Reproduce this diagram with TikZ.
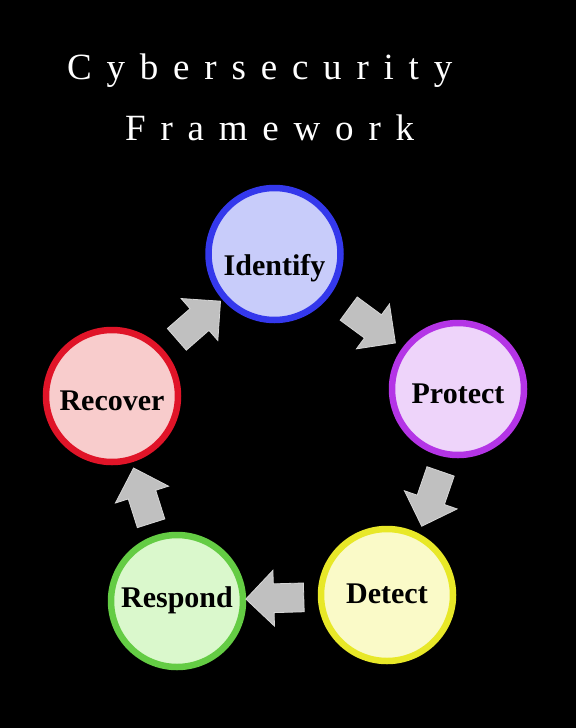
\documentclass[tikz,border=0pt]{standalone}
\usepackage{fontspec}
\setmainfont{Liberation Serif}
\newfontfamily\titlefont[LetterSpace=40]{Liberation Serif}
\usetikzlibrary{shapes.arrows}
\definecolor{idfill}{RGB}{200,204,250}
\definecolor{iddraw}{RGB}{52,56,236}
\definecolor{prfill}{RGB}{238,212,250}
\definecolor{prdraw}{RGB}{180,52,230}
\definecolor{defill}{RGB}{250,250,200}
\definecolor{dedraw}{RGB}{232,232,40}
\definecolor{rsfill}{RGB}{218,248,204}
\definecolor{rsdraw}{RGB}{100,204,68}
\definecolor{rcfill}{RGB}{248,204,204}
\definecolor{rcdraw}{RGB}{224,20,40}
\definecolor{arrfill}{RGB}{192,192,192}
\definecolor{arrdraw}{RGB}{214,214,214}
\tikzset{
  stage/.style={circle, minimum size=132pt, inner sep=0pt, line width=6.5pt,
    text height=20pt, text depth=0pt,
    font=\fontsize{30}{32}\selectfont\bfseries, text=black},
  garrow/.style={single arrow, fill=arrfill, draw=arrdraw, line width=0.8pt,
    minimum height=58pt, inner xsep=0pt, inner ysep=14pt,
    single arrow head extend=13.5pt, single arrow tip angle=90,
    sloped, allow upside down, pos=0.5},
  titletext/.style={anchor=base west, inner sep=0pt, text=white,
    font=\titlefont\fontsize{37}{40}\selectfont}
}
\begin{document}
\begin{tikzpicture}[x=1pt, y=-1pt]
  \fill[black] (0,0) rectangle (576,728);
  \useasboundingbox (0,0) rectangle (576,728);
  \node[titletext] (t1) at (67,79) {Cybersecurity};
  \node[titletext] (t2) at (125,140) {Framework};
  \node[stage, fill=idfill, draw=iddraw] (id) at (274.5,254) {\raisebox{-11pt}{Identify}};
  \node[stage, fill=prfill, draw=prdraw] (pr) at (458,389) {\raisebox{-4pt}{Protect}};
  \node[stage, fill=defill, draw=dedraw] (de) at (387,595) {\raisebox{2pt}{Detect}};
  \node[stage, fill=rsfill, draw=rsdraw] (rs) at (177,601) {\raisebox{4pt}{Respond}};
  \node[stage, fill=rcfill, draw=rcdraw] (rc) at (112,396) {\raisebox{-4pt}{Recover}};
  \path (id) -- node[garrow] (a1) {} (pr);
  \path ([xshift=11pt]pr.center) -- node[garrow] (a2) {} ([xshift=11pt]de.center);
  \path (de) -- node[garrow] (a3) {} (rs);
  \path ([yshift=-4pt]rs.center) -- node[garrow] (a4) {} ([yshift=-4pt]rc.center);
  \path (rc) -- node[garrow] (a5) {} (id);
\end{tikzpicture}
\end{document}
